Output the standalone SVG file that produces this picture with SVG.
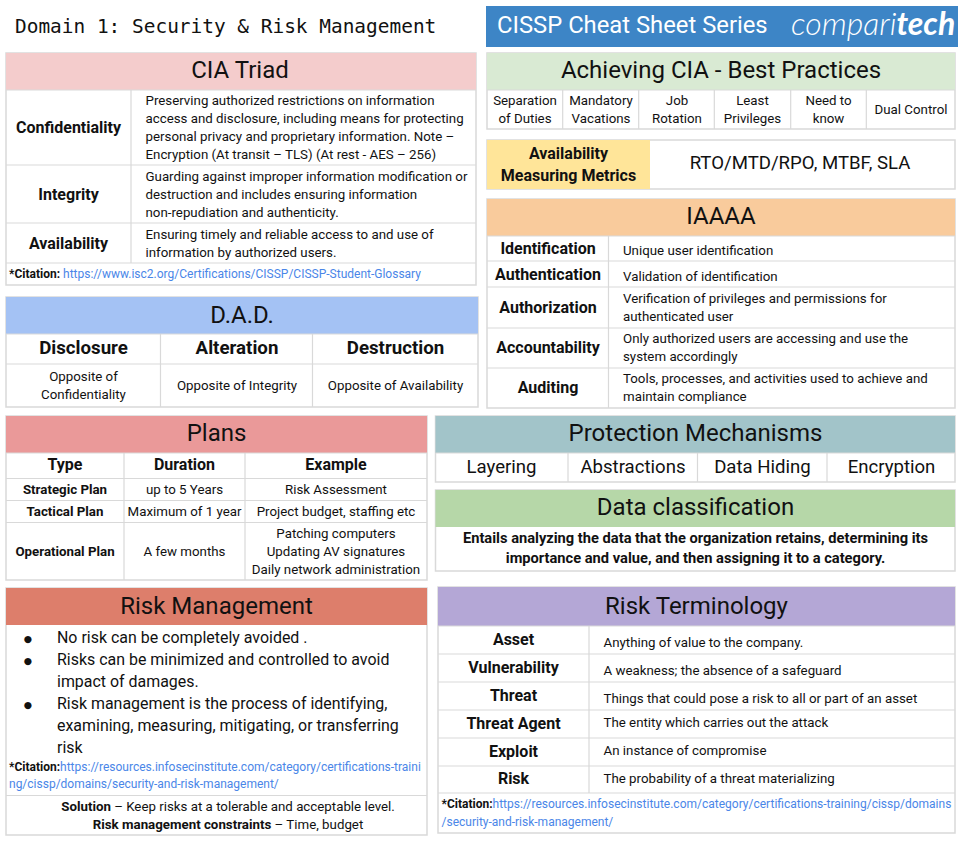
<svg xmlns="http://www.w3.org/2000/svg" width="959" height="844" viewBox="0 0 959 844">
<style>
text{font-family:Roboto,"Liberation Sans",sans-serif;fill:#111}
.t{font-size:24px;text-anchor:middle}
.b{font-size:13.3px}
.c{text-anchor:middle}
.l{font-weight:700;font-size:16px;text-anchor:middle}
.m{font-weight:700;font-size:13.3px;text-anchor:middle}
.h{font-weight:700;font-size:18.7px;text-anchor:middle}
.p{font-size:18.6px;text-anchor:middle}
.r{font-size:15.95px}
.u{font-size:9.5px;font-family:"DejaVu Sans",sans-serif;text-anchor:middle}
.ci{font-size:12px}
.ci tspan{fill:#4a86e8}
.ci tspan.k{fill:#111;font-weight:700}
.box{fill:#fff;stroke:#d9d9d9;stroke-width:1.5}
.g{stroke:#d9d9d9;stroke-width:1.2;fill:none}
</style>
<rect width="959" height="844" fill="#fff"/>
<g id="title"><text x="15" y="33" style="font-family:'DejaVu Sans Mono','Liberation Mono',monospace;font-size:19.45px">Domain 1: Security &amp; Risk Management</text></g>
<g id="banner"><rect x="486" y="6" width="472" height="41" fill="#3d85c6"/>
<text x="497" y="33" style="fill:#fff;font-size:23.8px">CISSP Cheat Sheet Series</text>
<text x="791" y="35" style="fill:#fff;font-family:Lato,sans-serif;font-size:32px;font-style:italic;font-weight:300">compari<tspan style="fill:#fff;font-weight:700">tech</tspan></text></g>

<g id="cia-triad"><rect class="box" x="6" y="53" width="470" height="232"/><rect x="6" y="53" width="470" height="37" fill="#f4cccc"/>
<path class="g" d="M6 90H476M6 165H476M6 223H476M6 263H476M131 90V263"/>
<text class="t" x="240" y="78">CIA Triad</text>
<text class="l" x="68.5" y="133">Confidentiality</text><text class="l" x="68.5" y="200">Integrity</text><text class="l" x="68.5" y="249">Availability</text>
<text class="b" x="145.5" y="105">Preserving authorized restrictions on information</text>
<text class="b" x="145.5" y="123">access and disclosure, including means for protecting</text>
<text class="b" x="145.5" y="141">personal privacy and proprietary information. Note –</text>
<text class="b" x="145.5" y="159">Encryption (At transit – TLS) (At rest - AES – 256)</text>
<text class="b" x="145.5" y="181">Guarding against improper information modification or</text>
<text class="b" x="145.5" y="199">destruction and includes ensuring information</text>
<text class="b" x="145.5" y="217">non-repudiation and authenticity.</text>
<text class="b" x="145.5" y="239">Ensuring timely and reliable access to and use of</text>
<text class="b" x="145.5" y="257">information by authorized users.</text>
<text class="ci" x="9" y="278"><tspan class="k">*Citation: </tspan><tspan>https://www.isc2.org/Certifications/CISSP/CISSP-Student-Glossary</tspan></text></g>

<g id="best-practices"><rect class="box" x="487" y="53" width="468" height="76"/><rect x="487" y="53" width="468" height="37" fill="#d9ead3"/>
<path class="g" d="M487 90H955M562.7 90V129M638.7 90V129M714.3 90V129M790.7 90V129M866.3 90V129"/>
<text class="t" x="721" y="78">Achieving CIA - Best Practices</text>
<text class="b c" x="525" y="105">Separation</text><text class="b c" x="525" y="123">of Duties</text>
<text class="b c" x="601" y="105">Mandatory</text><text class="b c" x="601" y="123">Vacations</text>
<text class="b c" x="677" y="105">Job</text><text class="b c" x="677" y="123">Rotation</text>
<text class="b c" x="752.5" y="105">Least</text><text class="b c" x="752.5" y="123">Privileges</text>
<text class="b c" x="828.5" y="105">Need to</text><text class="b c" x="828.5" y="123">know</text>
<text class="b c" x="911" y="114">Dual Control</text></g>

<g id="availability-metrics"><rect class="box" x="487" y="140" width="468" height="49"/><rect x="487" y="140" width="163" height="49" fill="#ffe599"/>
<text class="l" x="568.5" y="159">Availability</text><text class="l" x="568.5" y="181">Measuring Metrics</text>
<text class="p" x="800" y="169">RTO/MTD/RPO, MTBF, SLA</text></g>

<g id="iaaaa"><rect class="box" x="487" y="199" width="468" height="209"/><rect x="487" y="199" width="468" height="37" fill="#f9cb9c"/>
<path class="g" d="M487 236H955M487 261H955M487 287H955M487 328H955M487 368H955M608.5 236V408"/>
<text class="t" x="721" y="224">IAAAA</text>
<text class="l" x="548" y="254">Identification</text><text class="l" x="548" y="280">Authentication</text><text class="l" x="548" y="313">Authorization</text><text class="l" x="548" y="353">Accountability</text><text class="l" x="548" y="393">Auditing</text>
<text class="b" x="623" y="255">Unique user identification</text>
<text class="b" x="623" y="281">Validation of identification</text>
<text class="b" x="623" y="303">Verification of privileges and permissions for</text>
<text class="b" x="623" y="321">authenticated user</text>
<text class="b" x="623" y="343">Only authorized users are accessing and use the</text>
<text class="b" x="623" y="361">system accordingly</text>
<text class="b" x="623" y="383">Tools, processes, and activities used to achieve and</text>
<text class="b" x="623" y="401">maintain compliance</text></g>

<g id="dad"><rect class="box" x="6" y="297" width="472" height="110"/><rect x="6" y="297" width="472" height="37" fill="#a4c2f4"/>
<path class="g" d="M6 334H478M6 364H478M160.5 334V407M312.5 334V407"/>
<text class="t" x="242" y="323">D.A.D.</text>
<text class="h" x="83.5" y="354">Disclosure</text><text class="h" x="237" y="354">Alteration</text><text class="h" x="395.5" y="354">Destruction</text>
<text class="b c" x="83.5" y="381">Opposite of</text><text class="b c" x="83.5" y="399">Confidentiality</text>
<text class="b c" x="237" y="390">Opposite of Integrity</text><text class="b c" x="395.5" y="390">Opposite of Availability</text></g>

<g id="plans"><rect class="box" x="6" y="416" width="421" height="164"/><rect x="6" y="416" width="421" height="37" fill="#ea9999"/>
<path class="g" d="M6 453H427M6 478.5H427M6 500.5H427M6 522.5H427M124 453V580M245 453V580"/>
<text class="t" x="216.5" y="441">Plans</text>
<text class="l" x="65" y="470">Type</text><text class="l" x="184.5" y="470">Duration</text><text class="l" x="336" y="470">Example</text>
<text class="m" x="65" y="494">Strategic Plan</text><text class="b c" x="184.5" y="494">up to 5 Years</text><text class="b c" x="336" y="494">Risk Assessment</text>
<text class="m" x="65" y="516">Tactical Plan</text><text class="b c" x="184.5" y="516">Maximum of 1 year</text><text class="b c" x="336" y="516">Project budget, staffing etc</text>
<text class="m" x="65" y="556">Operational Plan</text><text class="b c" x="184.5" y="556">A few months</text>
<text class="b c" x="336" y="538">Patching computers</text><text class="b c" x="336" y="556">Updating AV signatures</text><text class="b c" x="336" y="574">Daily network administration</text></g>

<g id="protection-mechanisms"><rect class="box" x="435.5" y="416" width="519.5" height="66"/><rect x="435.5" y="416" width="519.5" height="37" fill="#a2c4c9"/>
<path class="g" d="M435.5 453H955M568 453V482M697.5 453V482M827 453V482"/>
<text class="t" x="695.5" y="441">Protection Mechanisms</text>
<text class="p" x="501.5" y="472.5">Layering</text><text class="p" x="633" y="472.5">Abstractions</text><text class="p" x="762.5" y="472.5">Data Hiding</text><text class="p" x="891.5" y="472.5">Encryption</text></g>

<g id="data-classification"><rect class="box" x="435.5" y="490" width="519.5" height="81"/><rect x="435.5" y="490" width="519.5" height="37" fill="#b6d7a8"/>
<text class="t" x="695.5" y="515">Data classification</text>
<text class="m" x="695.5" y="543" style="font-size:14.67px">Entails analyzing the data that the organization retains, determining its</text>
<text class="m" x="695.5" y="563" style="font-size:14.67px">importance and value, and then assigning it to a category.</text></g>

<g id="risk-management"><rect class="box" x="6" y="588" width="421" height="247"/><rect x="6" y="588" width="421" height="37" fill="#dd7e6b"/>
<path class="g" d="M6 795.5H427"/>
<text class="t" x="216.5" y="614">Risk Management</text>
<text class="u" x="28" y="642">●</text>
<text class="u" x="28" y="664">●</text>
<text class="u" x="28" y="708">●</text>
<text class="r" x="57" y="643">No risk can be completely avoided .</text>
<text class="r" x="57" y="665">Risks can be minimized and controlled to avoid</text>
<text class="r" x="57" y="687">impact of damages.</text>
<text class="r" x="57" y="709">Risk management is the process of identifying,</text>
<text class="r" x="57" y="731">examining, measuring, mitigating, or transferring</text>
<text class="r" x="57" y="753">risk</text>
<text class="ci" x="9" y="771"><tspan class="k">*Citation:</tspan><tspan>https://resources.infosecinstitute.com/category/certifications-traini</tspan></text>
<text class="ci" x="9" y="788"><tspan>ng/cissp/domains/security-and-risk-management/</tspan></text>
<text class="b c" x="228" y="811"><tspan font-weight="700">Solution</tspan> – Keep risks at a tolerable and acceptable level.</text>
<text class="b c" x="228" y="829"><tspan font-weight="700">Risk management constraints</tspan> – Time, budget</text></g>

<g id="risk-terminology"><rect class="box" x="438" y="587" width="517" height="246"/><rect x="438" y="587" width="517" height="39" fill="#b4a7d6"/>
<path class="g" d="M438 626H955M438 654H955M438 682H955M438 710H955M438 738H955M438 766H955M438 793H955M589 626V793"/>
<text class="t" x="696.5" y="614">Risk Terminology</text>
<text class="l" x="513.5" y="645">Asset</text><text class="l" x="513.5" y="673">Vulnerability</text><text class="l" x="513.5" y="701">Threat</text><text class="l" x="513.5" y="729">Threat Agent</text><text class="l" x="513.5" y="757">Exploit</text><text class="l" x="513.5" y="784">Risk</text>
<text class="b" x="603.5" y="647">Anything of value to the company.</text>
<text class="b" x="603.5" y="675">A weakness; the absence of a safeguard</text>
<text class="b" x="603.5" y="703">Things that could pose a risk to all or part of an asset</text>
<text class="b" x="603.5" y="727">The entity which carries out the attack</text>
<text class="b" x="603.5" y="755">An instance of compromise</text>
<text class="b" x="603.5" y="783">The probability of a threat materializing</text>
<text class="ci" x="441.5" y="808"><tspan class="k">*Citation:</tspan><tspan>https://resources.infosecinstitute.com/category/certifications-training/cissp/domains</tspan></text>
<text class="ci" x="441.5" y="826"><tspan>/security-and-risk-management/</tspan></text></g>
</svg>
